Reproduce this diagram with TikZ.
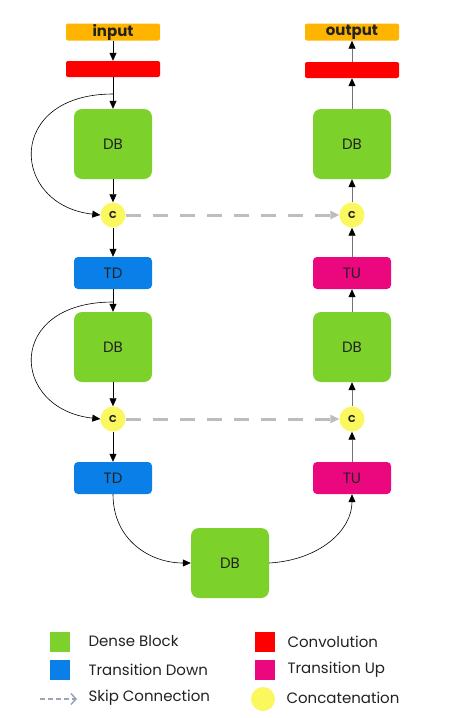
\documentclass[tikz,border=0pt]{standalone}
\usepackage{fontspec}
\setmainfont{Poppins}
\usetikzlibrary{arrows.meta}
\definecolor{inorange}{HTML}{FFB500}
\definecolor{convred}{HTML}{FF0000}
\definecolor{densegreen}{HTML}{7DD12B}
\definecolor{downblue}{HTML}{0A7FE8}
\definecolor{upmagenta}{HTML}{EB077E}
\definecolor{catyellow}{HTML}{FBF75E}
\definecolor{skipgray}{HTML}{BDBDBD}
\definecolor{legendgray}{HTML}{9AA3B8}
\definecolor{txt}{HTML}{222222}

\begin{document}
\begin{tikzpicture}[x=1pt, y=-1pt, font=\fontsize{15}{17}\selectfont, text=txt,
  iobox/.style={fill=inorange, rounded corners=2pt, minimum width=94pt, minimum height=17pt, inner sep=0pt, font=\fontsize{15}{17}\selectfont\bfseries},
  convbox/.style={fill=convred, rounded corners=2pt, minimum width=94pt, minimum height=16pt, inner sep=0pt},
  dbbox/.style={fill=densegreen, rounded corners=8pt, minimum width=78pt, minimum height=70pt, inner sep=0pt},
  tdbox/.style={fill=downblue, rounded corners=4pt, minimum width=78pt, minimum height=32pt, inner sep=0pt},
  tubox/.style={fill=upmagenta, rounded corners=4pt, minimum width=78pt, minimum height=32pt, inner sep=0pt},
  catnode/.style={circle, fill=catyellow, minimum size=25pt, inner sep=0pt, font=\fontsize{10}{11}\selectfont\bfseries},
  flow/.style={-{Triangle[width=7pt,length=8pt]}, black, line width=0.6pt},
  upflow/.style={-{Triangle[width=7pt,length=8pt,color=black]}, black!55, line width=0.8pt},
  skip/.style={-{Triangle[width=8pt,length=9pt]}, skipgray, line width=3pt, dash pattern=on 15pt off 12pt},
  swatch/.style={minimum size=20pt, inner sep=0pt}]

\useasboundingbox (0,0) rectangle (448,718);

% Down path
\node[iobox] (input) at (113,32) {input};
\node[convbox] (convin) at (113,69) {};
\node[dbbox] (db1) at (113,144) {DB};
\node[catnode] (c1) at (113,215) {C};
\node[tdbox] (td1) at (113,273) {TD};
\node[dbbox] (db2) at (113,347) {DB};
\node[catnode] (c2) at (113,419) {C};
\node[tdbox] (td2) at (113,478) {TD};

% Bottleneck
\node[dbbox] (db3) at (230,563) {DB};

% Up path
\node[iobox] (output) at (352,32) {output};
\node[convbox] (convout) at (352,70) {};
\node[dbbox] (db5) at (352,144) {DB};
\node[catnode] (c4) at (352,215) {C};
\node[tubox] (tu2) at (352,273) {TU};
\node[dbbox] (db4) at (352,347) {DB};
\node[catnode] (c3) at (352,419) {C};
\node[tubox] (tu1) at (352,478) {TU};

% Points where the loops leave the main line
\coordinate (split1) at (113,94);
\coordinate (split2) at (113,302);

% Down connections
\draw[flow] (input) -- (convin);
\draw[flow] (convin) -- (db1);
\draw[flow] (db1) -- (c1);
\draw[flow] (c1) -- (td1);
\draw[flow] (td1) -- (db2);
\draw[flow] (db2) -- (c2);
\draw[flow] (c2) -- (td2);

% Loops round the dense blocks
\draw[flow] (split1) .. controls (5,94) and (10,205) .. (c1.west);
\draw[flow] (split2) .. controls (5,302) and (10,409) .. (c2.west);

% Into and out of the bottleneck
\draw[flow] (td2.south) .. controls (113,540) and (150,563) .. (db3.west);
\draw[flow] (db3.east) .. controls (320,560) and (352,530) .. (tu1.south);

% Up connections
\draw[upflow] (tu1) -- (c3);
\draw[upflow] (c3) -- (db4);
\draw[upflow] (db4) -- (tu2);
\draw[upflow] (tu2) -- (c4);
\draw[upflow] (c4) -- (db5);
\draw[upflow] (db5) -- (convout);
\draw[upflow] (convout) -- (output);

% Skip connections
\draw[skip] (c1.east) -- (c4.west);
\draw[skip] (c2.east) -- (c3.west);

% Legend
\node[swatch, fill=densegreen] (lgdb) at (59.5,641.5) {};
\node[anchor=west] (lgdbtxt) at (85,641.5) {Dense Block};
\node[swatch, fill=convred] (lgconv) at (264.5,641.5) {};
\node[anchor=west] (lgconvtxt) at (284,641.5) {Convolution};
\node[swatch, fill=downblue] (lgtd) at (59.5,670) {};
\node[anchor=west] (lgtdtxt) at (85,670) {Transition Down};
\node[swatch, fill=upmagenta] (lgtu) at (264.5,670) {};
\node[anchor=west] (lgtutxt) at (284,670) {Transition Up};
\coordinate (lgskipa) at (40,699);
\coordinate (lgskipb) at (77,699);
\draw[-{Straight Barb[length=5pt,width=11pt]}, legendgray, line width=1.5pt, dash pattern=on 5pt off 3pt] (lgskipa) -- (lgskipb);
\node[anchor=west] (lgskiptxt) at (85,698) {Skip Connection};
\node[circle, fill=catyellow, minimum size=24pt, inner sep=0pt] (lgcat) at (263,699) {};
\node[anchor=west] (lgcattxt) at (283,698) {Concatenation};

\end{tikzpicture}
\end{document}
